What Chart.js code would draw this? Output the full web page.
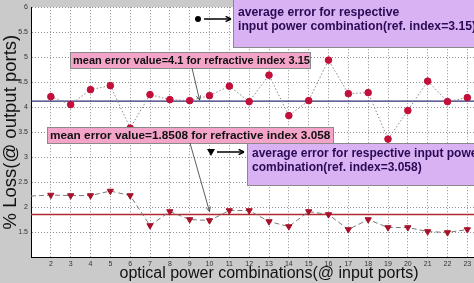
<!DOCTYPE html>
<html><head><meta charset="utf-8">
<script src="https://cdn.jsdelivr.net/npm/chart.js@4/dist/chart.umd.min.js"></script>
<style>html,body{margin:0;padding:0;background:#cacaca;overflow:hidden;width:474px;height:283px}#wrap{width:512px;height:283px}</style>
</head><body><div id="wrap"><canvas id="c" width="512" height="283"></canvas></div>
<script>
const xCats1 = [2,3,4,5,6,7,8,9,10,11,12,13,14,15,16,17,18,19,20,21,22,23];
const lossRef315 = [4.21,4.05,4.35,4.43,3.58,4.25,4.15,4.13,4.23,4.42,4.11,4.64,3.83,4.13,4.94,4.27,4.29,3.36,3.93,4.52,4.11,4.19];
const xCats2 = [1,2,3,4,5,6,7,8,9,10,11,12,13,14,15,16,17,18,19,20,21,22,23];
const lossRef3058 = [2.22,2.24,2.23,2.23,2.32,2.23,1.63,1.91,1.75,1.73,1.93,1.93,1.71,1.61,1.91,1.85,1.55,1.75,1.59,1.59,1.51,1.49,1.55];
const meanRef315 = 4.12;
const meanRef3058 = 1.8508;
const yTickLabels = ['1.5','2','2.5','3','3.5','4','4.5','5','5.5','6'];
const xTickLabels = ['2','3','4','5','6','7','8','9','10','11','12','13','14','15','16','17','18','19','20','21','22','23','24'];
const meanSpan = [1, 25];

const plotBg = {
  id:'plotBg',
  beforeDraw(ch){const a=ch.chartArea,c=ch.ctx;c.save();c.fillStyle='#cacaca';c.fillRect(0,0,ch.width,ch.height);c.fillStyle='#fff';c.fillRect(a.left,a.top,a.right-a.left,a.bottom-a.top);c.restore();}
};
function box(c,x,y,w,h,fill){c.fillStyle=fill;c.fillRect(x,y,w,h);c.strokeStyle='#8a8a8a';c.lineWidth=1;c.strokeRect(x+0.5,y+0.5,w-1,h-1);}
function arrowLine(c,x1,y1,x2,y2,col,lw,head){c.strokeStyle=col;c.fillStyle=col;c.lineWidth=lw;c.beginPath();c.moveTo(x1,y1);c.lineTo(x2,y2);c.stroke();
  const ang=Math.atan2(y2-y1,x2-x1);c.beginPath();c.moveTo(x2,y2);c.lineTo(x2-head*Math.cos(ang-0.45),y2-head*Math.sin(ang-0.45));c.moveTo(x2,y2);c.lineTo(x2-head*Math.cos(ang+0.45),y2-head*Math.sin(ang+0.45));c.stroke();}
const notes = {
  id:'notes',
  afterDraw(ch){
    const c=ch.ctx, xs=ch.scales.x, ys=ch.scales.y;
    c.save();
    c.textBaseline='middle';c.textAlign='left';
    box(c,233,-2,290,50,'#d9b2f3');
    c.fillStyle='#2a0a55';c.font='bold 12.2px "Liberation Sans", Arial, sans-serif';
    c.fillText('average error for respective',238,13);
    c.fillText('input power combination(ref. index=3.15)',238,27);
    c.fillStyle='#000';c.beginPath();c.arc(198,19,3,0,Math.PI*2);c.fill();
    arrowLine(c,204,19,231,19,'#000',1.5,6);
    box(c,70,52,241,17,'#f4a3c9');
    c.fillStyle='#111';c.font='bold 11px "Liberation Sans", Arial, sans-serif';
    c.fillText('mean error value=4.1 for refractive index 3.15',73,60.5);
    arrowLine(c,192,68,xs.getPixelForValue(9.5),ys.getPixelForValue(meanRef315)-1,'#333',0.8,5);
    box(c,47,127,287,17,'#f4a3c9');
    c.fillStyle='#111';c.font='bold 11.8px "Liberation Sans", Arial, sans-serif';
    c.fillText('mean error value=1.8508 for refractive index 3.058',50,135.5);
    arrowLine(c,190,143,xs.getPixelForValue(10),ys.getPixelForValue(meanRef3058)-3,'#333',0.8,5);
    box(c,247,143,280,43,'#d9b2f3');
    c.fillStyle='#2a0a55';c.font='bold 12px "Liberation Sans", Arial, sans-serif';
    c.fillText('average error for respective input power',252,154);
    c.fillText('combination(ref. index=3.058)',252,168);
    c.fillStyle='#000';c.beginPath();c.moveTo(207,149);c.lineTo(215,149);c.lineTo(211,156);c.closePath();c.fill();
    arrowLine(c,217,152,244,152,'#000',1.5,6);
    c.restore();
  }
};
new Chart(document.getElementById('c'),{
  type:'scatter',
  data:{datasets:[
    {data:xCats1.map((x,i)=>({x,y:lossRef315[i]})),showLine:true,borderColor:'#8a8a8a',borderWidth:1,borderDash:[1.5,2],pointStyle:'circle',pointRadius:3.3,pointBackgroundColor:'#c2103a',pointBorderColor:'#c2103a',order:1},
    {data:xCats2.map((x,i)=>({x,y:lossRef3058[i]})),showLine:true,borderColor:'#7a7a7a',borderWidth:1,borderDash:[5,3],pointStyle:'triangle',rotation:180,pointRadius:[0].concat(Array(22).fill(3.6)),pointBackgroundColor:'#a8102a',pointBorderColor:'#a8102a',order:1},
    {data:meanSpan.map(x=>({x,y:meanRef315})),showLine:true,borderColor:'#2e2e78',borderWidth:1.4,pointRadius:0,order:2},
    {data:meanSpan.map(x=>({x,y:meanRef3058})),showLine:true,borderColor:'#b2282c',borderWidth:1.4,pointRadius:0,order:2}
  ]},
  options:{
    responsive:false,animation:false,
    layout:{padding:{top:-3,right:1,left:0,bottom:0}},
    plugins:{legend:{display:false},tooltip:{enabled:false}},
    scales:{
      x:{type:'linear',min:1,max:25,
        border:{display:true,color:'#000',width:1,dash:[1,2]},
        grid:{color:'#8f8f8f',lineWidth:1,drawTicks:false},
        ticks:{stepSize:1,includeBounds:false,autoSkip:false,maxRotation:0,padding:3,font:{size:7,family:'"Liberation Sans", Arial'},color:'#333',
          callback:(v)=>xTickLabels.includes(String(v))?String(v):''},
        title:{display:true,text:'optical power combinations(@ input ports)',font:{size:16,family:'"Liberation Sans", Arial'},color:'#111',padding:{top:0,bottom:0}},
        afterFit:s=>{s.height=26;}
      },
      y:{type:'linear',min:1,max:6,
        border:{display:true,color:'#000',width:1,dash:[1,2]},
        grid:{color:'#8f8f8f',lineWidth:1,drawTicks:false},
        ticks:{stepSize:0.5,padding:3,font:{size:7,family:'"Liberation Sans", Arial'},color:'#333',
          callback:(v)=>yTickLabels.includes(String(v))?String(v):''},
        title:{display:true,text:'% Loss(@ output ports)',font:{size:18.5,family:'"Liberation Sans", Arial'},color:'#111',padding:{top:0,bottom:0}},
        afterFit:s=>{s.width=31;}
      }
    }
  },
  plugins:[plotBg,notes]
});
</script>
</body></html>
